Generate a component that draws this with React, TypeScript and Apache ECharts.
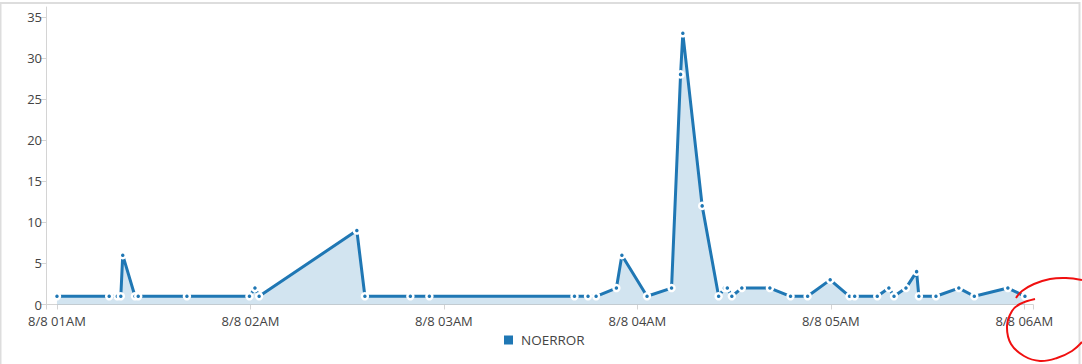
import React, { useEffect, useRef } from "react";
import * as echarts from "echarts";

const seriesName = "NOERROR";
const dateLabel = "8/8";
const times = [
  "01:00:00", "01:16:12", "01:18:42", "01:19:48", "01:20:24", "01:24:12", "01:25:12", "01:40:18",
  "01:59:42", "02:01:24", "02:02:42", "02:33:00", "02:35:30", "02:49:36", "02:55:30", "03:40:30",
  "03:44:42", "03:47:12", "03:53:30", "03:55:12", "04:03:00", "04:10:36", "04:13:24", "04:14:06",
  "04:20:06", "04:25:12", "04:27:00", "04:27:54", "04:29:18", "04:32:24", "04:41:06", "04:47:30",
  "04:52:48", "04:59:48", "05:05:48", "05:07:24", "05:14:24", "05:18:00", "05:19:36", "05:23:18",
  "05:26:36", "05:27:18", "05:32:36", "05:39:42", "05:44:30", "05:54:54", "06:00:12",
];
const values = [
  1, 1, 1, 1, 6, 1, 1, 1,
  1, 2, 1, 9, 1, 1, 1, 1,
  1, 1, 2, 6, 1, 2, 28, 33,
  12, 1, 2, 2, 1, 2, 2, 1,
  1, 3, 1, 1, 1, 2, 1, 2,
  4, 1, 1, 2, 1, 2, 1,
];
const hourTicks = ["01:00", "02:00", "03:00", "04:00", "05:00", "06:00"];
const yTicks = [0, 5, 10, 15, 20, 25, 30, 35];
const xRange = ["00:56:36", "06:02:42"];
const yMax = 36.2;

const toMin = (s: string) => {
  const p = s.split(":").map(Number);
  return p[0] * 60 + p[1] + (p[2] || 0) / 60;
};

export default function App() {
  const ref = useRef<HTMLDivElement>(null);
  useEffect(() => {
    if (!ref.current) return;
    const chart = echarts.init(ref.current, undefined, { renderer: "svg" });
    const color = "#1f77b4";
    const xMin = toMin(xRange[0]);
    const xMax = toMin(xRange[1]);
    const hourVals = hourTicks.map(toMin);
    chart.setOption({
      animation: false,
      textStyle: { fontFamily: "'Open Sans', sans-serif" },
      grid: { left: 46, right: 49, top: 7, bottom: 59.5 },
      legend: {
        data: [{ name: seriesName, icon: "rect" }],
        bottom: 12,
        left: 497,
        itemWidth: 11,
        itemHeight: 11,
        textStyle: {
          color: "#444",
          fontSize: 13.5,
          fontFamily: "'Open Sans', sans-serif",
          padding: [0, 0, 0, 2],
        },
      },
      xAxis: {
        type: "value",
        min: xMin,
        max: xMax,
        splitLine: { show: false },
        axisLine: { show: true, lineStyle: { color: "#d4d4d4", width: 1 } },
        axisTick: {
          show: true,
          length: 5,
          lineStyle: { color: "#d4d4d4" },
          customValues: [xMin, ...hourVals, xMax],
        },
        axisLabel: {
          color: "#444",
          fontSize: 13,
          lineHeight: 13,
          margin: 10,
          customValues: hourVals,
          formatter: (v: number) => {
            const h = Math.round(v / 60);
            return `${dateLabel} ${String(h).padStart(2, "0")}AM`;
          },
        },
      },
      yAxis: {
        type: "value",
        min: 0,
        max: yMax,
        splitLine: { show: false },
        axisLine: { show: true, lineStyle: { color: "#d4d4d4", width: 1 } },
        axisTick: { show: true, length: 6, lineStyle: { color: "#d4d4d4" }, customValues: yTicks },
        axisLabel: { color: "#444", fontSize: 13, lineHeight: 12, margin: 4, customValues: yTicks },
      },
      series: [
        {
          name: seriesName,
          type: "line",
          data: times.map((t, i) => [toMin(t), values[i]]),
          color,
          lineStyle: { color, width: 3 },
          areaStyle: { color, opacity: 0.2 },
          symbol: "circle",
          symbolSize: 6,
          showAllSymbol: true,
          itemStyle: { color, borderColor: "#fff", borderWidth: 2.5 },
        },
      ],
      graphic: [
        {
          type: "rect",
          shape: { x: 0.5, y: 3, width: 1079, height: 380 },
          style: { fill: "none", stroke: "#dddddd", lineWidth: 2 },
          silent: true,
          z: -1,
        },
        {
          type: "polyline",
          shape: {
            points: [
              [1016, 298], [1022, 291], [1034, 284], [1050, 279], [1066, 278], [1082, 280],
            ],
            smooth: 0.4,
          },
          style: { stroke: "#f01010", lineWidth: 2, fill: "none" },
          z: 100,
        },
        {
          type: "polyline",
          shape: {
            points: [
              [1035, 299], [1020, 304], [1012, 311], [1007, 326], [1011, 344], [1024, 356],
              [1040, 361], [1057, 358], [1072, 351], [1082, 342],
            ],
            smooth: 0.4,
          },
          style: { stroke: "#f01010", lineWidth: 2, fill: "none" },
          z: 100,
        },
      ],
    });
    return () => chart.dispose();
  }, []);
  return (
    <div
      ref={ref}
      style={{ position: "fixed", left: 0, top: 0, width: 1082, height: 364, background: "#fff" }}
    />
  );
}
